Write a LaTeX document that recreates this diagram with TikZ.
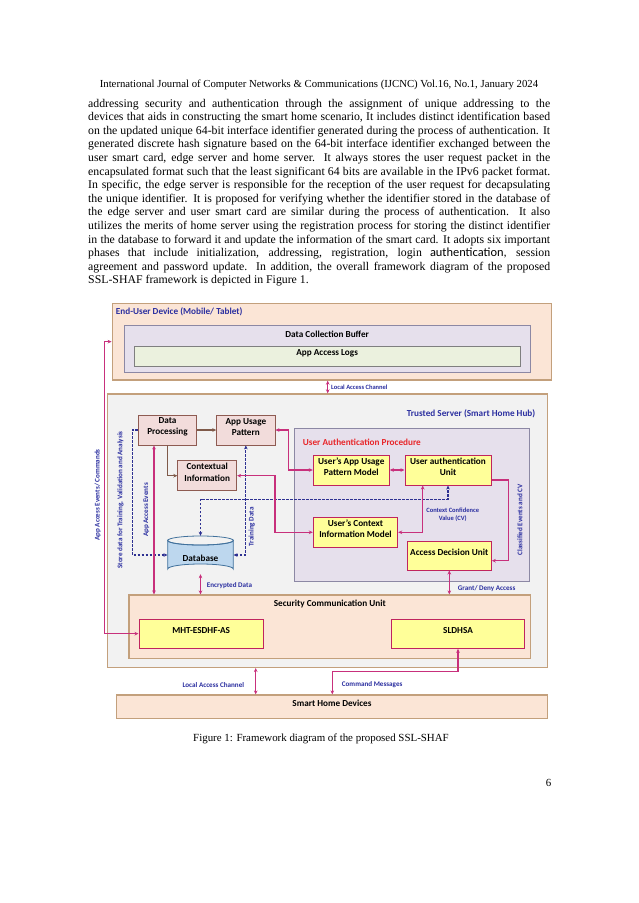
\documentclass[tikz,border=0pt]{standalone}
\usepackage{fontspec}
\setmainfont{Liberation Serif}
\newfontfamily\calfont{Carlito}
\usetikzlibrary{arrows.meta,fit}
\definecolor{cPeach}{HTML}{FBE5D6}
\definecolor{cTan}{HTML}{C3A07C}
\definecolor{cGray}{HTML}{F2F2F2}
\definecolor{cLav}{HTML}{E6E0EC}
\definecolor{cLavB}{HTML}{8C88A4}
\definecolor{cGreen}{HTML}{EBF1DE}
\definecolor{cGreenB}{HTML}{7F7F7F}
\definecolor{cPink}{HTML}{F2DCDB}
\definecolor{cPinkB}{HTML}{8E5B52}
\definecolor{cYel}{HTML}{FFFF99}
\definecolor{cYelB}{HTML}{C0245E}
\definecolor{cMag}{HTML}{C8307C}
\definecolor{cBlue}{HTML}{2B2FA0}
\definecolor{cNavy}{HTML}{2E3192}
\definecolor{cDB}{HTML}{BDD7EE}
\definecolor{cDBB}{HTML}{41719C}
\definecolor{cRed}{HTML}{E8262A}
\definecolor{cBrown}{HTML}{7F5A4A}
\tikzset{
  bx/.style={draw, inner sep=0pt, line width=0.8pt, align=center,
    font=\calfont\bfseries\fontsize{9.2}{11.4}\selectfont},
  outerbox/.style={bx, fill=cPeach, draw=cTan, line width=1.4pt},
  trustbox/.style={bx, fill=cGray, draw=cTan, line width=1.4pt},
  lavbox/.style={bx, fill=cLav, draw=cLavB, line width=1pt},
  greenbox/.style={bx, fill=cGreen, draw=cGreenB},
  pinkbox/.style={bx, fill=cPink, draw=cPinkB},
  yelbox/.style={bx, fill=cYel, draw=cYelB, line width=1pt},
  ttl/.style={inner sep=0pt, font=\calfont\bfseries\fontsize{9.2}{11}\selectfont},
  lbl/.style={inner sep=0pt, text=cBlue, align=center,
    font=\calfont\bfseries\fontsize{7.1}{8}\selectfont},
  slbl/.style={lbl, font=\calfont\bfseries\fontsize{6.5}{7.8}\selectfont},
  tipA/.tip={Stealth[length=4pt,width=3.6pt]},
  mgto/.style={draw=cMag, line width=1.1pt, -tipA},
  mgboth/.style={draw=cMag, line width=1.1pt, tipA-tipA},
  brto/.style={draw=cBrown, line width=1.1pt, -tipA},
  dsto/.style={draw=cNavy, line width=1.2pt, dash pattern=on 2.5pt off 1.5pt, -tipA},
  dsboth/.style={draw=cNavy, line width=1.2pt, dash pattern=on 2.5pt off 1.5pt, tipA-tipA},
}
\begin{document}
\begin{tikzpicture}[x=1pt,y=-1pt]
\useasboundingbox (0,0) rectangle (638,903);
\fill[white] (0,0) rectangle (638,903);

% ---------- page text ----------
\node[anchor=base, inner sep=0pt, font=\fontsize{10.75}{12}\selectfont] (hdr) at (319,87)
  {International Journal of Computer Networks \& Communications (IJCNC) Vol.16, No.1, January 2024};

\node[anchor=base west, inner sep=0pt] (body) at (88,107) {\parbox[t]{462pt}{\fontsize{11.8}{13.6}\selectfont
\makebox[462pt][s]{addressing security and authentication through the assignment of unique addressing to the}\\
\makebox[462pt][s]{devices that aids in constructing the smart home scenario, It includes distinct identification based}\\
\makebox[462pt][s]{on the updated unique 64-bit interface identifier generated during the process of authentication. It}\\
\makebox[462pt][s]{generated discrete hash signature based on the 64-bit interface identifier exchanged between the}\\
\makebox[462pt][s]{user smart card, edge server and home server. It always stores the user request packet in the}\\
\makebox[462pt][s]{encapsulated format such that the least significant 64 bits are available in the IPv6 packet format.}\\
\makebox[462pt][s]{In specific, the edge server is responsible for the reception of the user request for decapsulating}\\
\makebox[462pt][s]{the unique identifier. It is proposed for verifying whether the identifier stored in the database of}\\
\makebox[462pt][s]{the edge server and user smart card are similar during the process of authentication. It also}\\
\makebox[462pt][s]{utilizes the merits of home server using the registration process for storing the distinct identifier}\\
\makebox[462pt][s]{in the database to forward it and update the information of the smart card. It adopts six important}\\
\makebox[462pt][s]{phases that include initialization, addressing, registration, login {\calfont\fontsize{12.4}{13.6}\selectfont authentication,} session}\\
\makebox[462pt][s]{agreement and password update. In addition, the overall framework diagram of the proposed}\\
SSL-SHAF framework is depicted in Figure 1.}};

\node[anchor=base, inner sep=0pt, font=\fontsize{10.9}{12}\selectfont] (cap) at (321,741.5)
  {Figure 1: Framework diagram of the proposed SSL-SHAF};
\node[anchor=base, inner sep=0pt, font=\fontsize{10.9}{12}\selectfont] (pgno) at (548.5,786.5) {6};

% ---------- end-user device ----------
\node[outerbox, fit={(112.3,303.3)(551.7,380)}] (enduser) {};
\node[ttl, text=cBlue, anchor=west] (endusert) at (115.7,311.5) {End-User Device (Mobile/ Tablet)};
\node[lavbox, fit={(124.3,325)(530,372.3)}] (dcb) {};
\node[ttl, anchor=center] (dcbt) at (327.2,334) {Data Collection Buffer};
\node[greenbox, fit={(134.3,346.7)(520,366)}] (aal) {App Access Logs};

% ---------- trusted server ----------
\node[trustbox, fit={(107.7,394)(547.7,667.3)}] (trusted) {};
\node[ttl, text=cBlue, anchor=east] (trustedt) at (535.5,413.5) {Trusted Server (Smart Home Hub)};

\draw[mgboth] (enduser.south -| trusted.north) -- (trusted.north);
\node[slbl, anchor=west] (lac1) at (331,386.8) {Local Access Channel};

\node[pinkbox, fit={(138.3,415)(196.7,445)}] (dp) {Data\\Processing};
\node[pinkbox, fit={(216.7,415)(275,445)}] (aup) {App Usage\\Pattern};
\node[pinkbox, fit={(177.7,460.7)(236.7,490.7)}] (ci) {Contextual\\Information};

% database cylinder
\node[inner sep=0pt, fit={(167.7,536)(233.3,574)}] (db) {};
\fill[cDB, draw=cDBB, line width=0.8pt] (167.7,540.5) -- (167.7,569)
  arc[start angle=180, end angle=360, x radius=32.8, y radius=5] -- (233.3,540.5)
  arc[start angle=0, end angle=180, x radius=32.8, y radius=4.5] -- cycle;
\draw[cDBB, line width=0.8pt] (200.5,540.5) ellipse[x radius=32.8, y radius=4.5];
\node[ttl] (dbt) at (200.5,558.5) {Database};

% user authentication procedure
\node[lavbox, fit={(294,428.3)(529.3,581)}] (uap) {};
\node[ttl, text=cRed, anchor=west] (uapt) at (302.7,442.7) {User Authentication Procedure};
\node[yelbox, fit={(313.3,455)(389.3,485)}] (uaupm) {User’s App Usage\\Pattern Model};
\node[yelbox, fit={(405,455)(491,485)}] (uau) {User authentication\\Unit};
\node[yelbox, fit={(313.3,517.3)(397.7,547.3)}] (ucim) {User’s Context\\Information Model};
\node[yelbox, fit={(407.3,541.7)(491.3,570)}] (adu) {Access Decision Unit};

% security communication unit
\node[outerbox, line width=1.2pt, fit={(129,595)(530.7,658.3)}] (scu) {};
\node[ttl] (scut) at (329.8,603.5) {Security Communication Unit};
\node[yelbox, fit={(139,619)(263.3,648.3)}] (mht) {MHT-ESDHF-AS};
\node[yelbox, fit={(391.7,619)(524.3,648.3)}] (sld) {SLDHSA};

% smart home devices
\node[outerbox, line width=1.2pt, fit={(116.7,695)(547.3,718.3)}] (shd) {Smart Home Devices};

% ---------- connectors ----------
\coordinate (cl) at (104.5,500);
\draw[mgboth] (enduser.west) -| (cl) |- (mht.west);
\node[lbl, rotate=90] (aaec) at (97.8,495) {App Access Events/ Commands};

\draw[brto] (dp.east) -- (aup.west);
\draw[brto] (dp.south) |- (ci.west);

\coordinate (s1) at (132.3,500);
\draw[dsto] (dp.west) -| (s1) |- (db.west);
\node[lbl, rotate=90] (sdl) at (120.5,500) {Store data for Training, Validation and Analysis};

\draw[dsboth] (db.east) -| (aup.south);
\node[lbl, rotate=90] (tdl) at (251.7,526.7) {Training Data};

\coordinate (t1) at (300,499.3);
\draw[dsboth] (db.north) -- (db.north |- t1) -- (uau.south |- t1) -- (uau.south);

\coordinate (xa) at (154,520);
\draw[mgboth] (dp.south -| xa) -- (scu.north -| xa);
\node[lbl, rotate=90] (aael) at (146.5,510) {App Access Events};

\draw[mgboth] (db.south) -- (scu.north -| db.south);
\node[lbl, anchor=west] (edl) at (206.7,585.8) {Encrypted Data};

\coordinate (k1) at (288.3,450);
\draw[mgboth] (aup.east) -| (k1) |- (uaupm.west);
\coordinate (k2) at (275,500);
\draw[mgboth] (ci.east) -| (k2) |- (ucim.west);

\draw[mgboth] (uaupm.east) -- (uau.west);
\coordinate (k3) at (422.7,500);
\draw[mgboth] (uau.south -| k3) |- (ucim.east);
\node[slbl] (ccl) at (452.7,515) {Context Confidence\\Value (CV)};

\coordinate (k4) at (508.3,480);
\coordinate (k5) at (508.3,560.7);
\draw[mgto] (uau.east |- k4) -- (k4) -- (k5) -- (adu.east |- k5);
\node[lbl, rotate=90] (cecl) at (520,520) {Classified Events and CV};

\draw[mgboth] (adu.south) -- (scu.north -| adu.south);
\node[lbl, anchor=west] (gdl) at (457.7,588.5) {Grant/ Deny Access};

\coordinate (xb) at (255.7,680);
\draw[mgboth] (trusted.south -| xb) -- (shd.north -| xb);
\node[lbl, anchor=east] (lac2) at (244.3,685) {Local Access Channel};

\coordinate (m1) at (332.3,671.7);
\draw[mgboth] (sld.south) |- (m1) -- (m1 |- shd.north);
\node[lbl, anchor=west] (cml) at (341.7,685) {Command Messages};
\end{tikzpicture}
\end{document}
